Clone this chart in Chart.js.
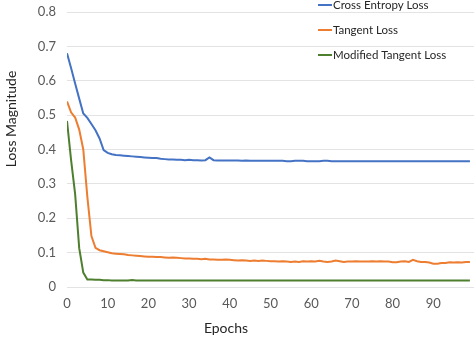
<!DOCTYPE html>
<html><head><meta charset="utf-8">
<script src="https://cdn.jsdelivr.net/npm/chart.js@4/dist/chart.umd.min.js"></script>
<style>html,body{margin:0;padding:0;background:#fff}canvas{display:block}</style>
</head><body>
<canvas id="c" width="474" height="341"></canvas>
<script>
const epochs = Array.from({length:100},(_, i)=>i);
const seriesNames = ["Cross Entropy Loss","Tangent Loss","Modified Tangent Loss"];
const crossEntropy = [0.680,0.637,0.592,0.548,0.505,0.492,0.474,0.456,0.432,0.398,
0.390,0.386,0.384,0.383,0.382,0.381,0.380,0.379,0.378,0.377,
0.376,0.375,0.375,0.373,0.372,0.371,0.371,0.370,0.370,0.369,
0.370,0.369,0.369,0.368,0.369,0.377,0.369,0.368,0.368,0.368,
0.368,0.368,0.368,0.367,0.368,0.367,0.367,0.367,0.367,0.367,
0.367,0.367,0.367,0.367,0.366,0.366,0.367,0.367,0.367,0.366,
0.366,0.366,0.366,0.367,0.367,0.366,0.366,0.366,0.366,0.366,
0.366,0.366,0.366,0.366,0.366,0.366,0.366,0.366,0.366,0.366,
0.366,0.366,0.366,0.366,0.366,0.366,0.366,0.366,0.366,0.366,
0.366,0.366,0.366,0.366,0.366,0.366,0.366,0.366,0.366,0.366];
const tangent = [0.540,0.508,0.493,0.458,0.400,0.262,0.148,0.114,0.107,0.104,
0.101,0.098,0.097,0.096,0.095,0.093,0.092,0.091,0.090,0.089,
0.088,0.088,0.087,0.087,0.086,0.085,0.086,0.085,0.084,0.083,
0.083,0.082,0.082,0.081,0.082,0.080,0.080,0.079,0.079,0.080,
0.079,0.078,0.077,0.078,0.077,0.076,0.077,0.076,0.077,0.076,
0.075,0.075,0.074,0.075,0.074,0.073,0.074,0.073,0.075,0.074,
0.075,0.074,0.076,0.074,0.073,0.074,0.077,0.075,0.073,0.074,
0.074,0.075,0.074,0.074,0.074,0.075,0.074,0.075,0.074,0.074,
0.072,0.072,0.074,0.075,0.073,0.079,0.075,0.073,0.073,0.071,
0.068,0.068,0.070,0.070,0.072,0.071,0.072,0.071,0.073,0.073];
const modifiedTangent = [0.483,0.370,0.270,0.113,0.042,0.022,0.022,0.021,0.021,0.020,
0.020,0.019,0.019,0.019,0.019,0.019,0.020,0.019,0.019,0.019,
0.019,0.019,0.019,0.019,0.019,0.019,0.019,0.019,0.019,0.019,
0.019,0.019,0.019,0.019,0.019,0.019,0.019,0.019,0.019,0.019,
0.019,0.019,0.019,0.019,0.019,0.019,0.019,0.019,0.019,0.019,
0.019,0.019,0.019,0.019,0.019,0.019,0.019,0.019,0.019,0.019,
0.019,0.019,0.019,0.019,0.019,0.019,0.019,0.019,0.019,0.019,
0.019,0.019,0.019,0.019,0.019,0.019,0.019,0.019,0.019,0.019,
0.019,0.019,0.019,0.019,0.019,0.019,0.019,0.019,0.019,0.019,
0.019,0.019,0.019,0.019,0.019,0.019,0.019,0.019,0.019,0.019];
const xTitle = "Epochs";
const yTitle = "Loss Magnitude";
const colors = ["#4472C4","#ED7D31","#4E7F2E"];

const FONT = "Lato";
const pts = arr => arr.map((v,i)=>({x:epochs[i], y:v}));

const overlay = {
  id:'overlay',
  afterDraw(chart){
    const ctx = chart.ctx;
    ctx.save();
    ctx.font = "11.5px " + FONT;
    ctx.textBaseline = "middle";
    ctx.textAlign = "left";
    const ly = [5, 30, 55];
    chart.data.datasets.forEach((ds,i)=>{
      ctx.strokeStyle = ds.borderColor;
      ctx.lineWidth = 2;
      ctx.beginPath(); ctx.moveTo(318, ly[i]); ctx.lineTo(332, ly[i]); ctx.stroke();
      ctx.fillStyle = "#262626";
      ctx.fillText(ds.label, 333, ly[i]+0.5);
    });
    ctx.font = "14px " + FONT;
    ctx.fillStyle = "#262626";
    ctx.textAlign = "center";
    ctx.fillText(xTitle, 226, 328);
    ctx.translate(11, 119);
    ctx.rotate(-Math.PI/2);
    ctx.fillText(yTitle, 0, 0);
    ctx.restore();
  }
};

new Chart(document.getElementById('c'), {
  type:'line',
  data:{
    datasets: [crossEntropy, tangent, modifiedTangent].map((d,i)=>({
      label: seriesNames[i], data: pts(d), borderColor: colors[i], backgroundColor: colors[i],
      borderWidth: 2, pointRadius: 0, tension: 0, fill:false
    }))
  },
  options:{
    responsive:false, animation:false, devicePixelRatio:1,
    layout:{padding:{top:12,right:0,left:0,bottom:0}},
    plugins:{legend:{display:false}, tooltip:{enabled:false}},
    scales:{
      x:{type:'linear', min:0, max:100,
        afterFit(s){ s.height = 54; s.paddingRight = 0; s.paddingLeft = 0; },
        grid:{display:false, drawTicks:false}, border:{display:false},
        ticks:{stepSize:10, padding:9, color:"#595959", font:{family:FONT,size:13},
          maxRotation:0, callback:v => v>=100 ? '' : String(v)}
      },
      y:{min:0, max:0.8,
        afterFit(s){ s.width = 67; s.paddingTop = 0; s.paddingBottom = 0; },
        grid:{color:"#e3e3e3", lineWidth:1, drawTicks:false}, border:{display:false},
        ticks:{stepSize:0.1, padding:11, color:"#595959", font:{family:FONT,size:13},
          callback:v => Number(v.toFixed(1)).toString()}
      }
    }
  },
  plugins:[overlay]
});
</script>
</body></html>
